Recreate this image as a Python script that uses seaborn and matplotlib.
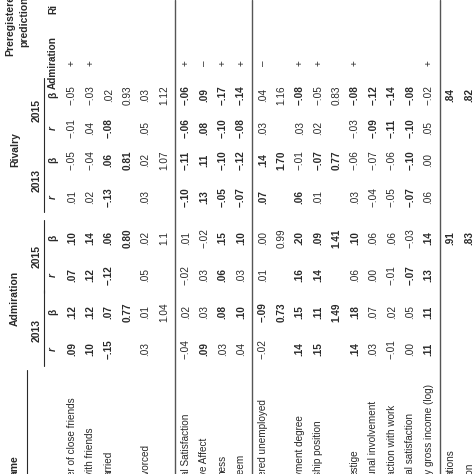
import matplotlib.pyplot as plt
import seaborn as sns

# rotated regression table: table rows run left -> right, columns run bottom -> top
row_labels = ["er of close friends", "vith friends", "arried", "", "ivorced", "",
              "al Satisfaction", "ve Affect", "ness", "teem",
              "ered unemployed", "", "yment degree", "ship position", "", "estige",
              "unal involvement", "action with work", "ial satisfaction", "ly gross income (log)",
              "ations", "ion"]
row_groups = [0] * 6 + [1] * 4 + [2] * 10 + [3] * 2

# "*" marks a bold entry
adm13_r = ["*.09", "*.10", "*−.15", "", ".03", "", "−.04", "*.09", ".03", ".04",
           "−.02", "", "*.14", "*.15", "", "*.14", ".03", "−.01", ".00", "*.11", "", ""]
adm13_b = ["*.12", "*.12", "*.07", "*0.77", ".01", "1.04", ".02", ".03", "*.08", "*.10",
           "*−.09", "*0.73", "*.15", "*.11", "*1.49", "*.18", ".07", ".02", ".05", "*.11", "", ""]
adm15_r = ["*.07", "*.12", "*−.12", "", ".05", "", "−.02", ".03", "*.06", ".03",
           ".01", "", "*.16", "*.14", "", ".06", ".00", "−.01", "*−.07", "*.13", "", ""]
adm15_b = ["*.10", "*.14", "*.06", "*0.80", ".02", "1.1", ".01", "−.02", "*.15", "*.10",
           ".00", "0.99", "*.20", "*.09", "*1.41", "*.10", ".06", ".06", "−.03", "*.14", "*.91", "*.83"]
riv13_r = [".01", ".02", "*−.13", "", ".03", "", "*−.10", "*.13", "*−.05", "*−.07",
           "*.07", "", "*.06", ".01", "", ".03", "−.04", "−.05", "*−.07", ".06", "", ""]
riv13_b = ["−.05", "−.04", "*.06", "*0.81", ".02", "1.07", "*−.11", "*.11", "*−.10", "*−.12",
           "*.14", "*1.70", "−.01", "*−.07", "*0.77", "−.06", "−.07", "−.06", "*−.10", ".00", "", ""]
riv15_r = ["−.01", ".04", "*−.08", "", ".05", "", "*−.06", "*.08", "*−.10", "*−.08",
           ".03", "", ".03", ".02", "", "−.03", "*−.09", "*−.11", "*−.10", ".05", "", ""]
riv15_b = ["−.05", "−.03", ".02", "0.93", ".03", "1.12", "*−.06", "*.09", "*−.17", "*−.14",
           ".04", "1.16", "*−.08", "−.05", "0.83", "*−.08", "*−.12", "*−.14", "*−.08", "−.02", "*.84", "*.82"]
pred_adm = ["+", "+", "", "", "", "", "+", "–", "+", "+",
            "–", "", "+", "+", "", "+", "", "", "", "+", "", ""]

columns = [adm13_r, adm13_b, adm15_r, adm15_b, riv13_r, riv13_b, riv15_r, riv15_b, pred_adm]
col_y = [349, 312, 275, 238, 197, 160, 128, 95, 63]
sub_heads = ["r", "β", "r", "β", "r", "β", "r", "β", "Admiration"]

sns.set_theme(style="white")
plt.rcParams["font.family"] = ["Liberation Sans Narrow", "Liberation Sans", "DejaVu Sans"]

fig = plt.figure(figsize=(4.74, 4.74), dpi=100)
ax = fig.add_axes([0, 0, 1, 1])
ax.set_xlim(0, 474)
ax.set_ylim(474, 0)
ax.axis("off")

col = "#2a2a2a"
row_x = [72 + 18.4 * i + 3.5 * g for i, g in enumerate(row_groups)]


def put(x, y, s, ha="center", size=7.2, weight="normal", style="normal"):
    ax.text(x, y, s, rotation=90, rotation_mode="anchor", ha=ha, va="center",
            fontsize=size, color=col, fontweight=weight, fontstyle=style)


# row labels (cut off by the bottom edge, as in the source crop)
for x, lab in zip(row_x, row_labels):
    if lab:
        put(x, 476, lab, ha="left")
put(15, 476, "ame", ha="left", weight="bold", size=7.5)

# cells
for vals, y in zip(columns, col_y):
    for x, v in zip(row_x, vals):
        if v:
            bold = v.startswith("*")
            put(x, y, v.lstrip("*"), weight="bold" if bold else "normal")

# headers
for y, h in zip(col_y, sub_heads):
    put(53, y, h, weight="bold", style="italic" if h == "r" else "normal")
put(53, 14, "Ri", ha="left", weight="bold")
for y, yr in zip([330, 257, 180, 110], ["2013", "2015", "2013", "2015"]):
    put(37, y, yr, weight="bold", size=7.5)
put(15, 298, "Admiration", weight="bold", size=7.5)
put(15, 150, "Rivalry", weight="bold", size=7.5)
put(10, 22, "Preregistered", weight="bold", size=7.5)
put(24, 22, "prediction", weight="bold", size=7.5)

# rules
for y0, y1 in [(366, 290), (293, 220), (212, 143), (143, 78)]:
    ax.plot([44, 44], [y0, y1], color=col, lw=0.8)
ax.plot([27, 27], [474, 370], color=col, lw=0.8)
for i in (5, 9, 19):
    xm = (row_x[i] + row_x[i + 1]) / 2
    ax.plot([xm, xm], [0, 474], color="#555555", lw=1.0)

fig.savefig("out.png", dpi=100)
